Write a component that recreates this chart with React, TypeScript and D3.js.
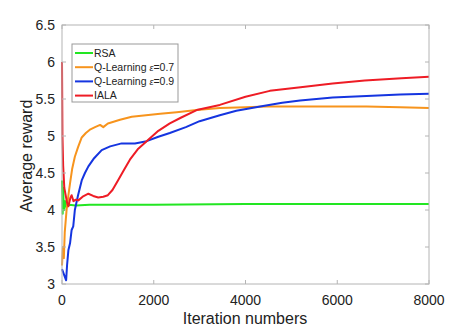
import React from "react";
import * as d3 from "d3";

const xTicks = [0, 2000, 4000, 6000, 8000];
const yTicks = [3, 3.5, 4, 4.5, 5, 5.5, 6, 6.5];

const rsaIter = [0, 8, 15, 25, 35, 50, 70, 100, 150, 300, 600, 1000, 2000, 4000, 6000, 8000];
const rsaVal = [4.4, 4.2, 3.95, 4.3, 4.1, 4.0, 4.12, 4.04, 4.07, 4.06, 4.07, 4.07, 4.07, 4.08, 4.08, 4.08];

const q7Iter = [0, 20, 40, 60, 80, 100, 140, 175, 220, 280, 350, 430, 520, 620, 720, 830, 900, 1000, 1265, 1520, 2140, 2500, 2935, 3440, 4000, 4460, 5190, 5900, 6640, 7370, 8000];
const q7Val = [3.25, 3.5, 3.35, 3.7, 3.85, 4.0, 4.2, 4.36, 4.55, 4.72, 4.85, 4.98, 5.04, 5.09, 5.12, 5.15, 5.12, 5.17, 5.22, 5.26, 5.3, 5.32, 5.35, 5.38, 5.39, 5.4, 5.4, 5.4, 5.4, 5.39, 5.38];

const q9Iter = [0, 30, 60, 90, 110, 140, 175, 210, 245, 280, 350, 430, 500, 575, 700, 865, 1050, 1300, 1590, 1845, 2100, 2350, 2700, 3000, 3440, 3800, 4320, 4800, 5190, 5900, 6640, 7370, 8000];
const q9Val = [3.2, 3.15, 3.1, 3.05, 3.25, 3.46, 3.55, 3.73, 3.78, 4.0, 4.2, 4.4, 4.5, 4.59, 4.7, 4.81, 4.86, 4.9, 4.9, 4.93, 4.99, 5.04, 5.12, 5.2, 5.28, 5.34, 5.4, 5.45, 5.48, 5.52, 5.54, 5.56, 5.57];

const ialaIter = [0, 10, 25, 50, 80, 110, 140, 180, 210, 250, 300, 355, 450, 575, 680, 790, 900, 1000, 1100, 1220, 1350, 1480, 1650, 1845, 2100, 2350, 2600, 2935, 3440, 4000, 4530, 5200, 5900, 6600, 7400, 8000];
const ialaVal = [6.0, 5.0, 4.6, 4.3, 4.2, 4.1, 4.05, 4.16, 4.2, 4.12, 4.14, 4.13, 4.18, 4.22, 4.19, 4.17, 4.18, 4.2, 4.27, 4.4, 4.54, 4.68, 4.82, 4.93, 5.07, 5.17, 5.25, 5.35, 5.42, 5.53, 5.61, 5.66, 5.71, 5.75, 5.78, 5.8];

const seriesNames = ["RSA", "Q-Learning", "Q-Learning", "IALA"];
const seriesEps = ["", "0.7", "0.9", ""];
const seriesColors = ["#22e622", "#f7941d", "#1535e0", "#ee1c25"];

export default function App() {
  const W = 474, H = 330;
  const x = d3.scaleLinear().domain([0, 8000]).range([62, 429]);
  const y = d3.scaleLinear().domain([3, 6.5]).range([284, 25]);
  const line = d3.line<[number, number]>().x(d => x(d[0])).y(d => y(d[1]));
  const series = [
    [rsaIter, rsaVal],
    [q7Iter, q7Val],
    [q9Iter, q9Val],
    [ialaIter, ialaVal],
  ];
  const axisColor = "#b4b4b4";
  const font = "Liberation Sans, Arial, sans-serif";
  const lx = 72, ly = 44, lw = 106, lh = 58;
  return (
    <svg width={W} height={H} style={{ position: "absolute", left: 0, top: 0, background: "#fff" }} fontFamily={font}>
      <rect x={0} y={0} width={W} height={H} fill="#fff" />
      {[0, 1, 2, 3].map(i => (
        <path key={i} d={line((series[i][0] as number[]).map((t, k) => [t, (series[i][1] as number[])[k]]))!}
          fill="none" stroke={seriesColors[i]} strokeWidth={2} strokeLinejoin="round" />
      ))}
      <rect x={x(0)} y={y(6.5)} width={x(8000) - x(0)} height={y(3) - y(6.5)} fill="none" stroke={axisColor} strokeWidth={1} />
      {xTicks.map(t => (
        <g key={"x" + t}>
          <line x1={x(t)} x2={x(t)} y1={y(3)} y2={y(3) - 4} stroke={axisColor} />
          <line x1={x(t)} x2={x(t)} y1={y(6.5)} y2={y(6.5) + 4} stroke={axisColor} />
          <text x={x(t)} y={305} textAnchor="middle" fontSize={14} fill="#222">{t}</text>
        </g>
      ))}
      {yTicks.map(t => (
        <g key={"y" + t}>
          <line x1={x(0)} x2={x(0) + 4} y1={y(t)} y2={y(t)} stroke={axisColor} />
          <line x1={x(8000)} x2={x(8000) - 4} y1={y(t)} y2={y(t)} stroke={axisColor} />
          <text x={55} y={y(t) + 5} textAnchor="end" fontSize={14} fill="#222">{t}</text>
        </g>
      ))}
      <text x={245} y={324} textAnchor="middle" fontSize={16} fill="#222">Iteration numbers</text>
      <text transform={`translate(32,156) rotate(-90)`} textAnchor="middle" fontSize={16} fill="#222">Average reward</text>
      <rect x={lx} y={ly} width={lw} height={lh} fill="#fff" stroke="#999" strokeWidth={1} />
      {seriesNames.map((n, i) => {
        const yy = ly + 9 + i * 14.2;
        return (
          <g key={"l" + i}>
            <line x1={75} x2={93} y1={yy} y2={yy} stroke={seriesColors[i]} strokeWidth={2} />
            <text x={94} y={yy + 3.8} fontSize={10.5} fill="#222">
              {n}
              {seriesEps[i] ? <tspan> <tspan fontStyle="italic" fontSize={9}>ε</tspan>={seriesEps[i]}</tspan> : null}
            </text>
          </g>
        );
      })}
    </svg>
  );
}
